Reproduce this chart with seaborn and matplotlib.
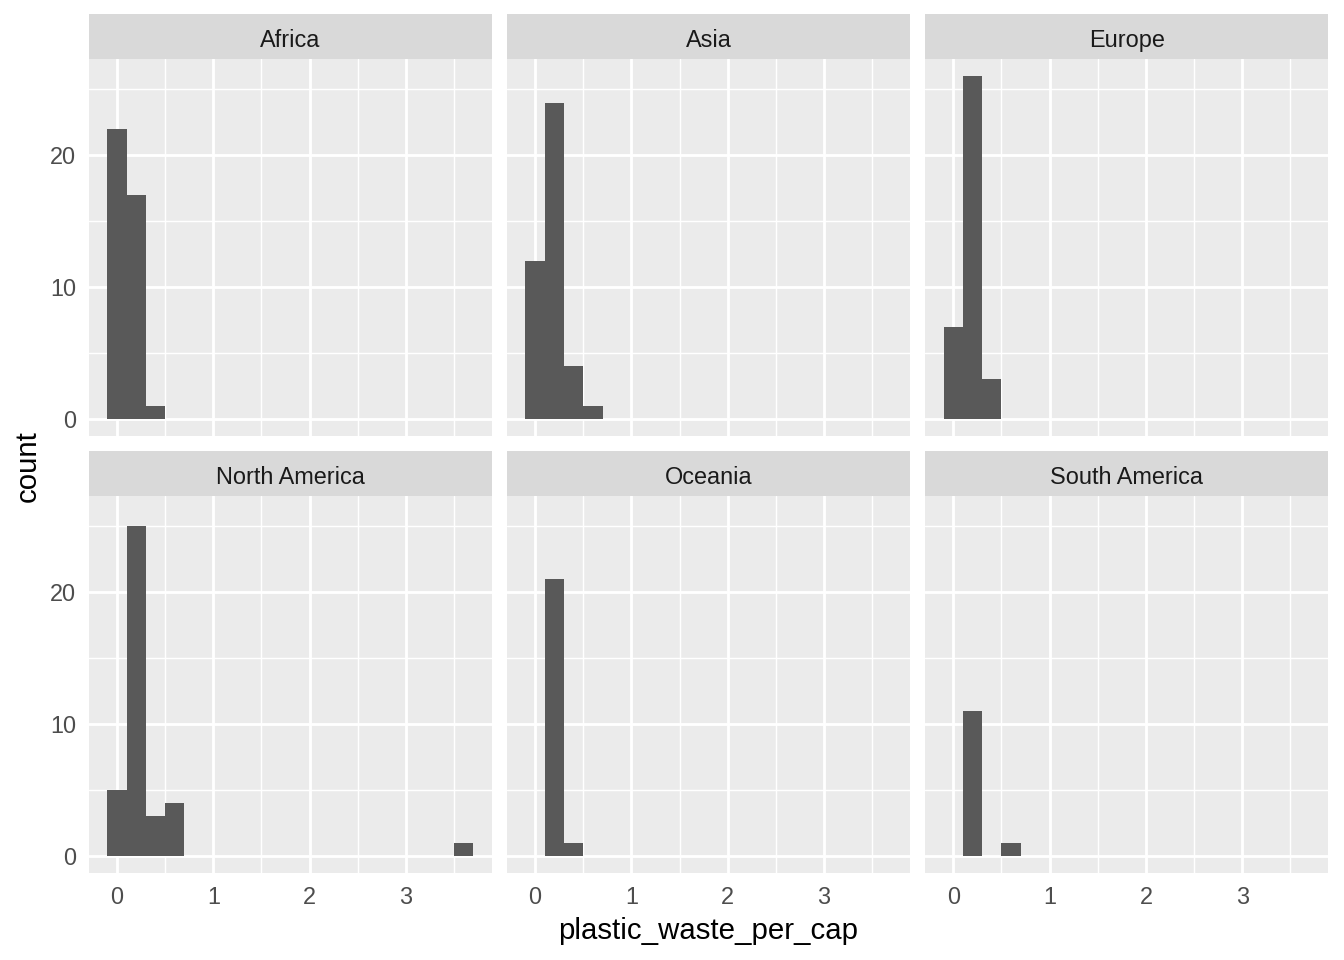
import numpy as np
import pandas as pd
import matplotlib
matplotlib.use("Agg")
import matplotlib.pyplot as plt
import seaborn as sns
from matplotlib.patches import Rectangle

# %%
# binned counts (binwidth 0.2, bins centred on 0, 0.2, ...)
continents = ["Africa", "Asia", "Europe", "North America", "Oceania", "South America"]
bin_centers = [0.0, 0.2, 0.4, 0.6, 3.6]
africa = [22, 17, 1, 0, 0]
asia = [12, 24, 4, 1, 0]
europe = [7, 26, 3, 0, 0]
north_america = [5, 25, 3, 4, 1]
oceania = [0, 21, 1, 0, 0]
south_america = [0, 11, 0, 1, 0]

counts = [africa, asia, europe, north_america, oceania, south_america]
df = pd.DataFrame({
    "continent": np.repeat(continents, len(bin_centers)),
    "plastic_waste_per_cap": bin_centers * len(continents),
    "n": np.concatenate(counts),
})

# %%
sns.set_theme(style="darkgrid")
plt.rcParams["font.family"] = ["Liberation Sans", "DejaVu Sans"]

g = sns.FacetGrid(df, col="continent", col_wrap=3, col_order=continents,
                  sharex=True, sharey=True, height=2.5, aspect=1.4)
g.map_dataframe(sns.histplot, x="plastic_waste_per_cap", weights="n",
                binwidth=0.2, binrange=(-0.1, 3.7), color="#595959",
                alpha=1, linewidth=0, edgecolor="none")

fig = g.figure
fig.set_size_inches(7, 5)
fig.subplots_adjust(left=89 / 1344, right=1328 / 1344, top=1 - 59 / 960,
                    bottom=1 - 873 / 960, wspace=15.5 / 402, hspace=60 / 377)

strip_h = 45 / 377
for i, (ax, name) in enumerate(zip(g.axes.flat, continents)):
    ax.set_facecolor("#EBEBEB")
    ax.set_xlim(-0.29, 3.89)
    ax.set_ylim(-1.3, 27.3)
    ax.set_xticks([0, 1, 2, 3])
    ax.set_yticks([0, 10, 20])
    ax.set_xticks([0.5, 1.5, 2.5, 3.5], minor=True)
    ax.set_yticks([5, 15, 25], minor=True)
    ax.grid(which="major", color="white", linewidth=1.07)
    ax.grid(which="minor", color="white", linewidth=0.53)
    ax.set_axisbelow(True)
    for s in ax.spines.values():
        s.set_visible(False)
    ax.set_title("")
    ax.set_xlabel("")
    ax.set_ylabel("")
    ax.tick_params(which="major", length=2.75, width=1.07, color="#333333",
                   labelcolor="#4D4D4D", labelsize=8.8, pad=2.2)
    ax.tick_params(which="minor", length=0)
    row, col = divmod(i, 3)
    if row == 0:
        ax.tick_params(axis="x", which="major", length=0, labelbottom=False)
    else:
        ax.tick_params(axis="x", labelbottom=True)
    if col != 0:
        ax.tick_params(axis="y", which="major", length=0, labelleft=False)
    # strip on top like facet_wrap
    ax.add_patch(Rectangle((0, 1), 1, strip_h, transform=ax.transAxes,
                           facecolor="#D9D9D9", edgecolor="none", clip_on=False))
    ax.text(0.5, 1 + 12 / 377, name, transform=ax.transAxes,
            ha="center", va="baseline", fontsize=8.8, color="#1A1A1A")

fig.text(708.5 / 1344, 1 - 931 / 960, "plastic_waste_per_cap", ha="center",
         va="center", fontsize=11, color="black")
fig.text(28 / 1344, 1 - 466 / 960, "count", ha="center", va="center",
         rotation=90, fontsize=11, color="black")

fig.savefig("out.png", dpi=192, facecolor="white")
